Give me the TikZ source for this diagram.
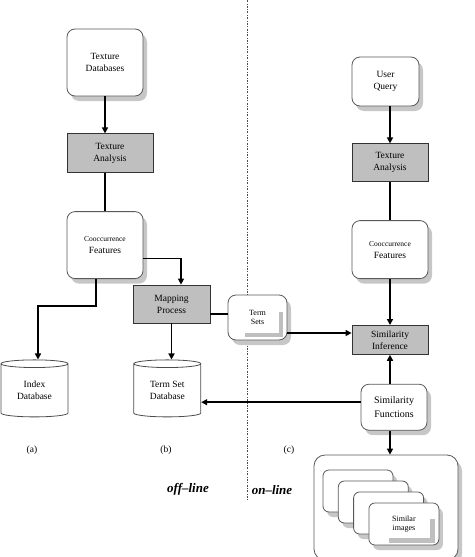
\documentclass[tikz,border=0pt]{standalone}
\usepackage{fontspec}
\setmainfont{Liberation Serif}
\usetikzlibrary{positioning, calc, shapes.geometric, arrows.meta, shadows}
\newcommand{\boxfont}{\fontsize{9.5}{12}\selectfont}
\newcommand{\tinyfont}{\fontsize{7.5}{8.5}\selectfont}
\newcommand{\smallfont}{\fontsize{8}{9}\selectfont}
\tikzstyle{Arrow} = [line width=1.6pt, -{Triangle[length=6pt, width=6pt]}]
\tikzstyle{Line} = [line width=1.6pt]
\tikzstyle{rbox} = [draw=black!65, line width=0.8pt, rounded corners=8pt,
  fill=white, align=center, inner sep=0pt, font=\boxfont,
  drop shadow={shadow xshift=4pt, shadow yshift=-5pt, fill=black!22, opacity=1}]
\tikzstyle{gbox} = [draw=black!80, line width=0.8pt, fill=black!25,
  align=center, inner sep=0pt, font=\boxfont]
\tikzstyle{dbase} = [cylinder, shape border rotate=90, aspect=0.22,
  draw=black!70, line width=0.8pt, fill=white, align=center, inner sep=0pt,
  font=\boxfont]
\tikzstyle{card} = [rbox, rounded corners=6pt, minimum width=70pt, minimum height=42pt]
\tikzstyle{innerL} = [line width=4.5pt, black!25]
\tikzstyle{divider} = [line width=0.7pt, black!70,
  dash pattern=on 2pt off 1.5pt on 0.7pt off 1.5pt]

\begin{document}
\begin{tikzpicture}[x=1pt, y=1pt]
    \useasboundingbox (0,0) rectangle (474,-557);
    \coordinate (divtop) at (247.5,0);
    \coordinate (divbot) at (247.5,-500);
    \draw[divider] (divtop) -- (divbot);

    % off-line part
    \node[rbox, minimum width=76pt, minimum height=67pt] (texdb) at (105,-62.5) {Texture\\Databases};
    \node[gbox, minimum width=86pt, minimum height=39pt, below=37pt of texdb, xshift=5pt] (anaL) {Texture\\Analysis};
    \node[rbox, minimum width=76pt, minimum height=67pt, below=38pt of anaL, xshift=-5pt] (coocL) {{\tinyfont Cooccurrence}\\Features};
    \node[gbox, minimum width=77pt, minimum height=38pt] (map) at (171.5,-304) {Mapping\\Process};
    \node[dbase, minimum width=67pt, minimum height=57pt] (idxdb) at (34.5,-390.5) {Index\\Database};
    \node[dbase, minimum width=67pt, minimum height=57pt, right=65pt of idxdb] (tsdb) {Term Set\\Database};
    \node[font=\boxfont] (laba) at (32,-450) {(a)};
    \node[font=\boxfont] (labb) at (166,-450) {(b)};
    \node[font=\fontsize{13}{15}\selectfont\bfseries\itshape] (offline) at (188,-489) {off--line};

    % on-line part
    \node[rbox, minimum width=67pt, minimum height=49pt] (uquery) at (385.5,-81.5) {User\\Query};
    \node[gbox, minimum width=76pt, minimum height=38pt, below=37pt of uquery, xshift=4.5pt] (anaR) {Texture\\Analysis};
    \node[rbox, minimum width=76pt, minimum height=58pt, below=38pt of anaR] (coocR) {{\tinyfont Cooccurrence}\\Features};
    \node[gbox, minimum width=76pt, minimum height=29pt, below=46pt of coocR] (siminf) {Similarity\\Inference};
    \node[rbox, minimum width=59pt, minimum height=45pt, font=\smallfont] (termsets) at (257.5,-317.5) {Term\\Sets};
    \draw[innerL] ($(termsets.south east)+(-42pt,5.5pt)$) -- ($(termsets.south east)+(-6.5pt,5.5pt)$) -- ($(termsets.south east)+(-6.5pt,28pt)$);
    \node[rbox, minimum width=66pt, minimum height=46pt, font=\fontsize{10}{14}\selectfont, below=29pt of siminf, xshift=4pt] (simfun) {Similarity\\Functions};
    \node[rbox, rounded corners=11pt, minimum width=144pt, minimum height=105pt, below=24pt of simfun, xshift=-8pt] (result) {};
    \node[card] (card0) at (358,-491) {};
    \node[card] (card1) at ([shift={(15.3pt,-11pt)}]card0) {};
    \node[card] (card2) at ([shift={(15.3pt,-11pt)}]card1) {};
    \node[card, font=\smallfont] (card3) at ([shift={(15.3pt,-11pt)}]card2) {Similar\\images};
    \draw[innerL] ($(card3.south east)+(-50pt,5pt)$) -- ($(card3.south east)+(-7pt,5pt)$) -- ($(card3.south east)+(-7pt,26pt)$);
    \node[font=\boxfont] (labc) at (289,-450) {(c)};
    \node[font=\fontsize{13}{15}\selectfont\bfseries\itshape] (online) at (272,-490) {on--line};

    % connectors
    \draw[Arrow] (texdb) -- (texdb |- anaL.north);
    \draw[Line] (anaL.south -| coocL) -- (coocL);
    \draw[Arrow] ([yshift=-13.5pt]coocL.east) -| ([xshift=9.5pt]map.north);
    \draw[Arrow] ([xshift=-9pt]coocL.south) -- ++(0,-27pt) -| ([xshift=3.5pt]idxdb.north);
    \draw[Arrow] (map.south) -- (map.south |- tsdb.north);
    \draw[Line] ([yshift=-10pt]map.east) -- ([yshift=-10pt]map.east -| termsets.west);
    \draw[Arrow] ([yshift=-15.5pt]termsets.east) -- ([yshift=-15.5pt]termsets.east -| siminf.west);
    \draw[Arrow] (uquery.south -| anaR) -- (anaR.north);
    \draw[Line] (anaR) -- (coocR);
    \draw[Arrow] (coocR) -- (siminf);
    \draw[Arrow] (simfun.north -| siminf) -- (siminf.south);
    \draw[Arrow] ([yshift=5pt]simfun.west) -- ([yshift=5pt]simfun.west -| tsdb.east);
    \draw[Arrow] (simfun.south -| siminf) -- (siminf |- result.north);
\end{tikzpicture}
\end{document}
